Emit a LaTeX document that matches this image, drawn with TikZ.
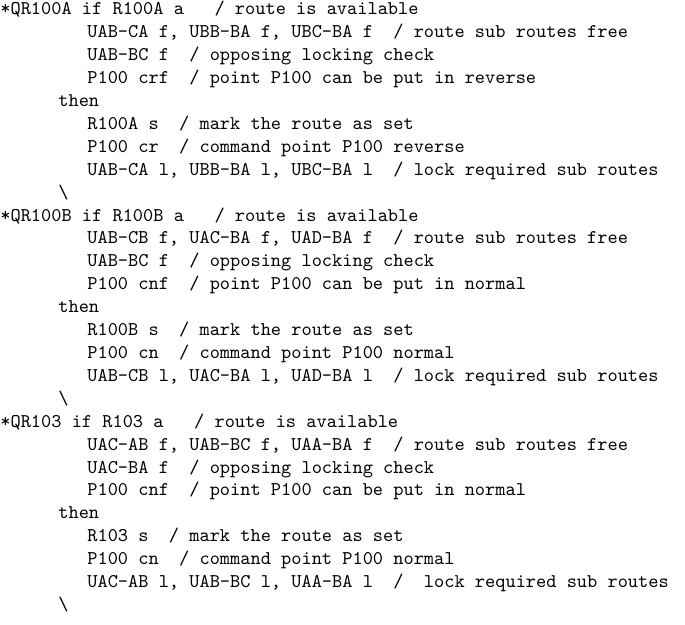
\documentclass[tikz,border=0pt]{standalone}
\begin{document}
\begin{tikzpicture}[x=0.5147pt,y=-0.5147pt,
  ln/.style={anchor=base west,inner sep=0pt,font=\ttfamily\fontsize{10}{12}\selectfont}]
\useasboundingbox (0,0) rectangle (685,625);
\def\P{22.9}
\def\B{87}
\def\T{58}
\node[ln] (l1) at (0,15) {*QR100A if R100A a~~~/ route is available};
\node[ln] (l2) at (\B,15+\P) {UAB-CA f, UBB-BA f, UBC-BA f~~/ route sub routes free};
\node[ln] (l3) at (\B,15+2*\P) {UAB-BC f~~/ opposing locking check};
\node[ln] (l4) at (\B,15+3*\P) {P100 crf~~/ point P100 can be put in reverse};
\node[ln] (l5) at (\T,15+4*\P) {then};
\node[ln] (l6) at (\B,15+5*\P) {R100A s~~/ mark the route as set};
\node[ln] (l7) at (\B,15+6*\P) {P100 cr~~/ command point P100 reverse};
\node[ln] (l8) at (\B,15+7*\P) {UAB-CA l, UBB-BA l, UBC-BA l~~/ lock required sub routes};
\node[ln] (l9) at (\T,15+8*\P) {\textbackslash};
\node[ln] (l10) at (0,15+9*\P) {*QR100B if R100B a~~~/ route is available};
\node[ln] (l11) at (\B,15+10*\P) {UAB-CB f, UAC-BA f, UAD-BA f~~/ route sub routes free};
\node[ln] (l12) at (\B,15+11*\P) {UAB-BC f~~/ opposing locking check};
\node[ln] (l13) at (\B,15+12*\P) {P100 cnf~~/ point P100 can be put in normal};
\node[ln] (l14) at (\T,15+13*\P) {then};
\node[ln] (l15) at (\B,15+14*\P) {R100B s~~/ mark the route as set};
\node[ln] (l16) at (\B,15+15*\P) {P100 cn~~/ command point P100 normal};
\node[ln] (l17) at (\B,15+16*\P) {UAB-CB l, UAC-BA l, UAD-BA l~~/ lock required sub routes};
\node[ln] (l18) at (\T,15+17*\P) {\textbackslash};
\node[ln] (l19) at (0,15+18*\P) {*QR103 if R103 a~~~/ route is available};
\node[ln] (l20) at (\B,15+19*\P) {UAC-AB f, UAB-BC f, UAA-BA f~~/ route sub routes free};
\node[ln] (l21) at (\B,15+20*\P) {UAC-BA f~~/ opposing locking check};
\node[ln] (l22) at (\B,15+21*\P) {P100 cnf~~/ point P100 can be put in normal};
\node[ln] (l23) at (\T,15+22*\P) {then};
\node[ln] (l24) at (\B,15+23*\P) {R103 s~~/ mark the route as set};
\node[ln] (l25) at (\B,15+24*\P) {P100 cn~~/ command point P100 normal};
\node[ln] (l26) at (\B,15+25*\P) {UAC-AB l, UAB-BC l, UAA-BA l~~/~~lock required sub routes};
\node[ln] (l27) at (\T,15+26*\P) {\textbackslash};
\end{tikzpicture}
\end{document}
